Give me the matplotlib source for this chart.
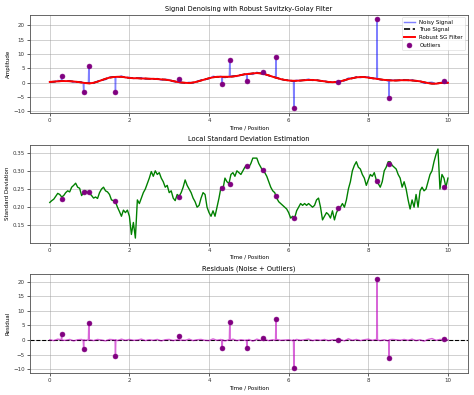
import numpy as np
import matplotlib
matplotlib.use("Agg")
import matplotlib.pyplot as plt

# ---- data ----
grid_step = 0.1
filtered = [0.2, 0.3, 0.4, 0.5, 0.5, 0.45, 0.35, 0.2, 0.0, -0.2,
            -0.3, -0.1, 0.3, 0.8, 1.3, 1.7, 1.9, 2.0, 2.0, 1.8,
            1.6, 1.5, 1.5, 1.4, 1.4, 1.3, 1.3, 1.2, 1.1, 1.0,
            0.8, 0.5, 0.2, 0.0, -0.1, -0.2, 0.0, 0.3, 0.7, 1.1,
            1.5, 1.8, 2.0, 2.0, 2.0, 2.0, 2.1, 2.3, 2.6, 2.9,
            3.0, 3.2, 3.3, 3.2, 2.9, 2.5, 2.0, 1.6, 1.2, 0.9,
            0.7, 0.6, 0.6, 0.7, 0.8, 0.9, 0.9, 0.8, 0.6, 0.4,
            0.2, 0.1, 0.2, 0.4, 0.8, 1.2, 1.5, 1.8, 1.9, 1.9,
            1.7, 1.5, 1.3, 1.1, 0.9, 0.8, 0.7, 0.7, 0.8, 0.8,
            0.8, 0.7, 0.6, 0.4, 0.1, -0.2, -0.4, -0.4, -0.2, 0.0,
            -0.1]

residual_noise = [0.1, -0.2, 0.3, 0.1, -0.1, 0.2, -0.3, 0.1, 0.2, -0.1,
                  0.1, -0.2, 0.2, 0.0, -0.3, 0.2, 0.1, -0.2, 0.3, -0.1,
                  0.2, -0.1, 0.0, 0.3, -0.2, 0.1, -0.1, 0.2, -0.3, 0.1,
                  0.2, -0.2, 0.1, 0.0, -0.1, 0.3, -0.2, 0.1, 0.2, -0.1,
                  -0.2, 0.4, -0.1, 0.2, -0.3, 0.1, 0.3, -0.2, 0.1, -0.1,
                  0.2, -0.4, 0.3, -0.1, 0.2, -0.2, 0.1, 0.2, -0.1, 0.0,
                  0.1, -0.2, 0.2, -0.1, 0.1, 0.3, -0.2, 0.1, -0.1, 0.2,
                  -0.2, 0.1, 0.0, 0.2, -0.3, 0.4, -0.1, 0.2, -0.2, 0.1,
                  0.3, -0.1, 0.2, -0.2, 0.1, -0.3, 0.2, 0.1, -0.1, 0.2,
                  -0.1, 0.3, -0.2, 0.1, -0.4, 0.2, 0.5, -0.1, 0.2, -0.2,
                  0.1]

outlier_x = [0.30, 0.85, 0.98, 1.65, 3.25, 4.33, 4.52, 4.95, 5.35, 5.68,
             6.13, 7.25, 8.22, 8.52, 9.90]
outlier_signal = [2.4, -3.2, 5.7, -3.4, 1.3, -0.6, 7.9, 0.4, 3.6, 8.8,
                  -9.1, 0.3, 22.2, -5.5, 0.5]
outlier_resid = [2.1, -2.9, 5.9, -5.4, 1.3, -2.8, 6.0, -2.6, 0.6, 7.1,
                 -9.7, -0.1, 21.0, -6.3, 0.5]
outlier_std = [0.222, 0.242, 0.241, 0.217, 0.229, 0.253, 0.263, 0.313, 0.303, 0.232,
               0.171, 0.197, 0.271, 0.319, 0.256]

# samples of the noisy signal / residual just before and after each outlier
neighbor_offset = 0.01
signal_before = [0.5, -0.1, -0.3, 1.9, 0.1, 2.0, 2.0, 2.9, 3.1, 1.7,
                 0.6, 0.3, 1.3, 0.8, 0.0]
signal_after = [0.5, -0.2, -0.3, 2.0, 0.0, 2.0, 2.0, 3.0, 3.0, 1.6,
                0.6, 0.3, 1.3, 0.8, 0.0]
resid_before = [0.1, -0.1, 0.1, 0.0, 0.1, -0.1, 0.1, 0.0, 0.1, -0.1,
                0.1, 0.0, 0.1, -0.1, 0.1]
resid_after = [-0.1, 0.1, 0.0, 0.1, -0.1, 0.1, 0.0, -0.1, 0.0, 0.1,
               -0.1, 0.1, 0.0, 0.1, -0.1]

std_step = 0.05
local_std = [0.213, 0.218, 0.222, 0.230, 0.238, 0.235, 0.228, 0.232, 0.240, 0.245,
             0.242, 0.255, 0.260, 0.266, 0.255, 0.252, 0.232, 0.240, 0.245, 0.240,
             0.238, 0.232, 0.225, 0.228, 0.224, 0.240, 0.250, 0.255, 0.245, 0.242,
             0.235, 0.220, 0.218, 0.215, 0.200, 0.188, 0.175, 0.192, 0.185, 0.192,
             0.175, 0.125, 0.158, 0.115, 0.220, 0.210, 0.225, 0.240, 0.250, 0.265,
             0.280, 0.298, 0.285, 0.300, 0.290, 0.295, 0.280, 0.270, 0.255, 0.260,
             0.240, 0.245, 0.225, 0.218, 0.235, 0.230, 0.240, 0.255, 0.275, 0.260,
             0.250, 0.240, 0.225, 0.215, 0.200, 0.205, 0.225, 0.240, 0.235, 0.200,
             0.185, 0.175, 0.190, 0.175, 0.200, 0.225, 0.255, 0.250, 0.280, 0.270,
             0.265, 0.290, 0.295, 0.285, 0.300, 0.295, 0.290, 0.300, 0.310, 0.315,
             0.310, 0.320, 0.335, 0.335, 0.335, 0.320, 0.310, 0.300, 0.295, 0.285,
             0.270, 0.255, 0.245, 0.240, 0.225, 0.215, 0.210, 0.205, 0.200, 0.195,
             0.185, 0.170, 0.175, 0.170, 0.190, 0.200, 0.210, 0.205, 0.210, 0.205,
             0.210, 0.205, 0.200, 0.205, 0.220, 0.225, 0.200, 0.165, 0.175, 0.185,
             0.180, 0.170, 0.190, 0.165, 0.185, 0.195, 0.200, 0.210, 0.200, 0.220,
             0.250, 0.270, 0.300, 0.315, 0.325, 0.310, 0.305, 0.290, 0.280, 0.260,
             0.275, 0.290, 0.285, 0.295, 0.275, 0.265, 0.255, 0.270, 0.300, 0.310,
             0.325, 0.325, 0.315, 0.310, 0.305, 0.290, 0.280, 0.255, 0.270, 0.250,
             0.220, 0.195, 0.220, 0.200, 0.235, 0.200, 0.245, 0.255, 0.245, 0.250,
             0.270, 0.290, 0.300, 0.325, 0.345, 0.360, 0.250, 0.290, 0.280, 0.255,
             0.280]

# ---- build series ----
t_grid = np.arange(len(filtered)) * grid_step
filt = np.array(filtered)
res_grid = np.array(residual_noise)
noisy_grid = filt + res_grid
ox = np.array(outlier_x)


def merge(grid_t, grid_y, before, center, after):
    t = np.concatenate([grid_t, ox - neighbor_offset, ox, ox + neighbor_offset])
    y = np.concatenate([grid_y, before, center, after])
    idx = np.argsort(t, kind="stable")
    return t[idx], y[idx]


t_noisy, y_noisy = merge(t_grid, noisy_grid, signal_before, outlier_signal, signal_after)
t_res, y_res = merge(t_grid, res_grid, resid_before, outlier_resid, resid_after)

t_std = np.arange(len(local_std)) * std_step

plt.rcParams.update({
    "axes.edgecolor": "#555555",
    "axes.linewidth": 1.6,
    "xtick.major.width": 1.4,
    "ytick.major.width": 1.4,
    "xtick.major.size": 6,
    "ytick.major.size": 6,
    "xtick.color": "#333333",
    "ytick.color": "#333333",
    "xtick.labelsize": 10,
    "ytick.labelsize": 10,
})

# ---- figure ----
fig = plt.figure(figsize=(12, 10), dpi=39.5)
ax1 = fig.add_axes([0.063, 0.714, 0.924, 0.249])
ax2 = fig.add_axes([0.063, 0.386, 0.924, 0.248])
ax3 = fig.add_axes([0.063, 0.056, 0.924, 0.250])

grid_kw = dict(color="#999999", alpha=0.45, lw=1.8)

ax1.plot(t_noisy, y_noisy, color="blue", alpha=0.5, lw=2.6, label="Noisy Signal")
ax1.plot(t_grid, filt, color="black", ls="--", lw=3, label="True Signal")
ax1.plot(t_grid, filt, color="red", lw=3.5, label="Robust SG Filter")
ax1.scatter(outlier_x, outlier_signal, color="purple", s=80, zorder=5, label="Outliers")
ax1.set_title("Signal Denoising with Robust Savitzky-Golay Filter", fontsize=12)
ax1.set_xlabel("Time / Position", fontsize=10)
ax1.set_ylabel("Amplitude", fontsize=10)
ax1.legend(loc="upper right", fontsize=10)
ax1.grid(True, **grid_kw)

ax2.plot(t_std, local_std, color="green", lw=2.5)
ax2.scatter(outlier_x, outlier_std, color="purple", s=80, zorder=5)
ax2.set_title("Local Standard Deviation Estimation", fontsize=12)
ax2.set_xlabel("Time / Position", fontsize=10)
ax2.set_ylabel("Standard Deviation", fontsize=10)
ax2.grid(True, **grid_kw)

ax3.axhline(0, color="black", ls="--", lw=2.0, zorder=2)
ax3.plot(t_res, y_res, color="m", alpha=0.6, lw=2.6, zorder=3)
ax3.scatter(outlier_x, outlier_resid, color="purple", s=80, zorder=5)
ax3.set_title("Residuals (Noise + Outliers)", fontsize=12)
ax3.set_xlabel("Time / Position", fontsize=10)
ax3.set_ylabel("Residual", fontsize=10)
ax3.grid(True, **grid_kw)

fig.savefig("out.png", dpi=39.5)
